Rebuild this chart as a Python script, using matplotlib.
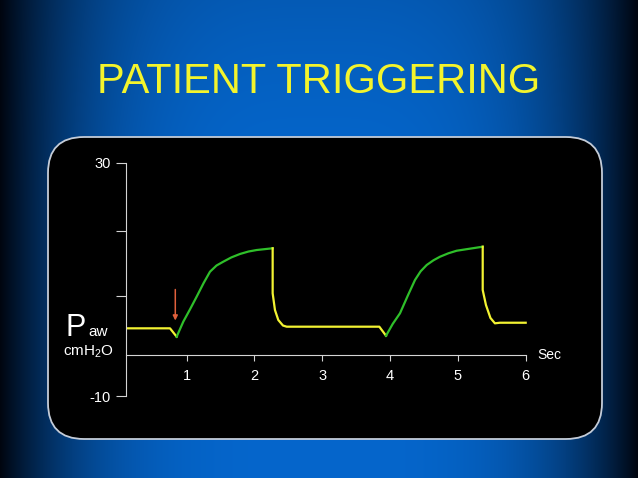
import numpy as np
import matplotlib
matplotlib.use("Agg")
import matplotlib.pyplot as plt
from matplotlib.patches import FancyBboxPatch

plt.rcParams['font.family'] = ['Liberation Sans', 'DejaVu Sans']
plt.rcParams['mathtext.fontset'] = 'custom'
plt.rcParams['mathtext.rm'] = 'Liberation Sans'

# airway pressure trace (time in s, pressure in cmH2O)
t_exp1 = [0.105, 0.754, 0.852]
p_exp1 = [1.62, 1.62, 0.18]
t_insp1 = [0.852, 0.950, 1.050, 1.147, 1.250, 1.344, 1.440, 1.540, 1.660, 1.786, 1.910, 2.032, 2.268]
p_insp1 = [0.18, 2.76, 4.90, 7.05, 9.40, 11.34, 12.40, 13.06, 13.80, 14.38, 14.80, 15.06, 15.36]
t_exp2 = [2.268, 2.268, 2.302, 2.351, 2.420, 2.475, 3.841, 3.940]
p_exp2 = [15.36, 7.63, 4.76, 3.05, 2.10, 1.90, 1.90, 0.35]
t_insp2 = [3.940, 4.040, 4.146, 4.260, 4.367, 4.450, 4.540, 4.640, 4.736, 4.860, 4.982, 5.366]
p_insp2 = [0.35, 2.40, 4.20, 7.20, 9.91, 11.40, 12.49, 13.30, 13.91, 14.50, 14.94, 15.63]
t_exp3 = [5.366, 5.366, 5.414, 5.480, 5.546, 5.620, 6.000]
p_exp3 = [15.63, 8.20, 5.62, 3.40, 2.48, 2.58, 2.58]

trigger_t = 0.832
trigger_p = [8.76, 2.48]

x_ticks = [1, 2, 3, 4, 5, 6]
y_ticks = [-10, 7.17, 18.33, 30]
y_labels = ['-10', '', '', '30']

fig = plt.figure(figsize=(6.38, 4.78), dpi=100)

# background: blue slide with dark sides
bg = fig.add_axes([0, 0, 1, 1])
bg.set_xlim(0, 638)
bg.set_ylim(478, 0)
bg.axis('off')
xs = np.linspace(-1, 1, 638)
ys = np.linspace(-1, 1, 478)
inten = 1 - np.abs(xs) ** 3.5
vert = 1 - 0.12 * np.clip(-ys, 0, 1) ** 2
inten = np.clip(inten[None, :] * vert[:, None], 0, 1)
dark = np.array([0.0, 0.02, 0.06])
blue = np.array([0.02, 0.40, 0.80])
img = dark + (blue - dark) * inten[..., None]
bg.imshow(img, extent=[0, 638, 478, 0], aspect='auto', zorder=0)

panel = FancyBboxPatch((48, 137), 554, 302, boxstyle="round,pad=0,rounding_size=36",
                       facecolor='black', edgecolor='#c4ccd8', lw=1.3, zorder=1)
bg.add_patch(panel)

bg.text(319, 82, 'PATIENT TRIGGERING', color='#f4f42c', fontsize=30,
        ha='center', va='center', zorder=2)

bg.text(65, 336, 'P', color='white', fontsize=22, ha='left', va='baseline', zorder=2)
bg.text(88, 336, 'aw', color='white', fontsize=11, ha='left', va='baseline', zorder=2)
bg.text(89, 352, r'cmH$_\mathregular{2}$O', color='white', fontsize=11, ha='center', va='center', zorder=2)
bg.text(537, 355, 'Sec', color='white', fontsize=10, ha='left', va='center', zorder=2)

# chart
ax = fig.add_axes([126 / 638, 1 - 410 / 478, 434 / 638, 260 / 478])
ax.patch.set_alpha(0)
ax.set_xlim(0.105, 6.506)
ax.set_ylim(-12.40, 32.23)

yellow = '#f2f232'
green = '#2fbf2a'
lw = 1.6
ax.plot(t_exp1, p_exp1, color=yellow, lw=lw)
ax.plot(t_insp1, p_insp1, color=green, lw=lw)
ax.plot(t_exp2, p_exp2, color=yellow, lw=lw)
ax.plot(t_insp2, p_insp2, color=green, lw=lw)
ax.plot(t_exp3, p_exp3, color=yellow, lw=lw)

ax.annotate('', xy=(trigger_t, trigger_p[1]), xytext=(trigger_t, trigger_p[0]),
            arrowprops=dict(arrowstyle='-|>', color='#e0603c', lw=1.1, mutation_scale=7))

axis_col = '#d4d4d4'
for s in ['top', 'right']:
    ax.spines[s].set_visible(False)
ax.spines['left'].set_bounds(-10, 30)
ax.spines['left'].set_color(axis_col)
ax.spines['bottom'].set_position(('data', -2.96))
ax.spines['bottom'].set_bounds(0.105, 6)
ax.spines['bottom'].set_color(axis_col)

ax.set_yticks(y_ticks)
ax.set_yticklabels(y_labels)
ax.set_xticks(x_ticks)
ax.tick_params(axis='y', direction='out', length=7, color=axis_col, labelcolor='white',
               labelsize=10.5, pad=4)
ax.tick_params(axis='x', direction='out', length=4, color=axis_col, labelcolor='white',
               labelsize=10.5, pad=6)

fig.savefig('out.png', dpi=100)
